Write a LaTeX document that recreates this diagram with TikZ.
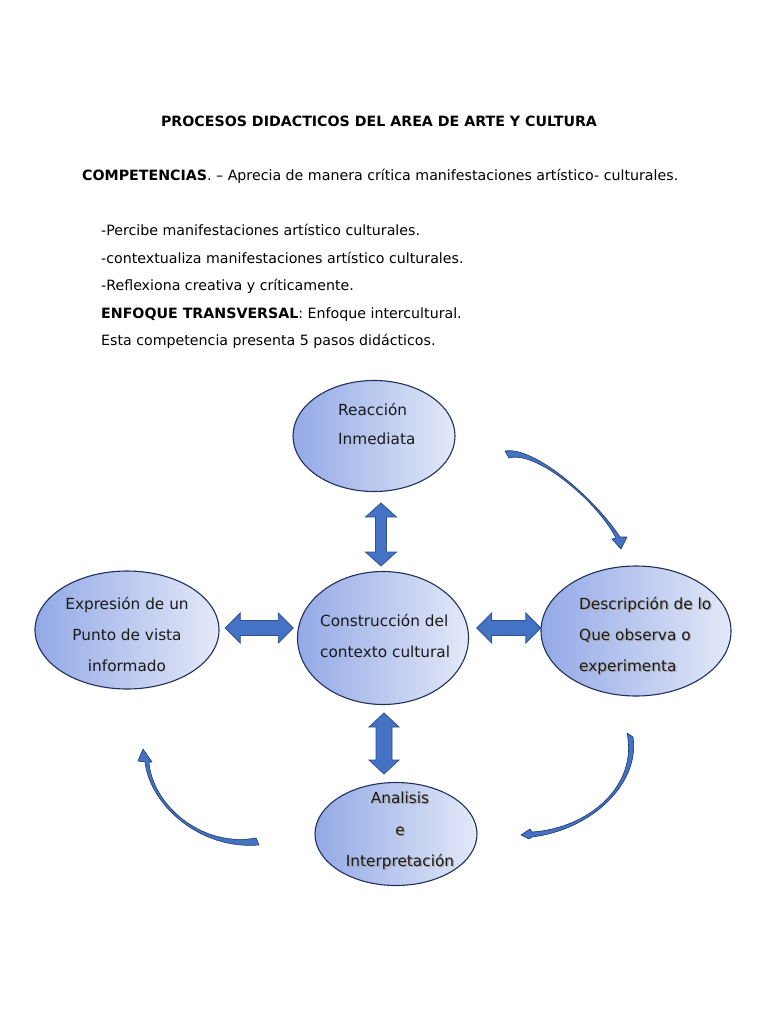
\documentclass[tikz,border=0pt]{standalone}
\usepackage{fontspec}
\setmainfont{DejaVu Sans}
\usetikzlibrary{shapes.geometric,calc}
\definecolor{ellL}{HTML}{93A9E6}
\definecolor{ellR}{HTML}{E4E9F8}
\definecolor{ellB}{HTML}{1F2F5E}
\definecolor{arrF}{HTML}{4472C4}
\definecolor{arrD}{HTML}{2F528F}
\definecolor{navy}{HTML}{1F3864}
\definecolor{txt}{HTML}{1A1A1A}
\newcommand\DArr[6]{\draw[darr,shift={#1},rotate=#2] (-#3/2,0) -- ({-#3/2+#4},-#5) -- ({-#3/2+#4},-#6) -- ({#3/2-#4},-#6) -- ({#3/2-#4},-#5) -- (#3/2,0) -- ({#3/2-#4},#5) -- ({#3/2-#4},#6) -- ({-#3/2+#4},#6) -- ({-#3/2+#4},#5) -- cycle;}
\begin{document}
\begin{tikzpicture}[x=1pt,y=-1pt,
  ell/.style={ellipse, draw=ellB, line width=1.1pt, left color=ellL, right color=ellR, inner sep=0pt},
  hdr/.style={anchor=base west, inner sep=0pt, font=\fontsize{14.2}{16}\selectfont, text=black},
  etxt/.style={inner sep=0pt, font=\fontsize{15.3}{18}\selectfont, text=txt},
  eshadow/.style={etxt, text=black!35},
  darr/.style={fill=arrF, draw=arrD, line width=0.8pt, line join=miter},
  carr/.style={fill=arrF, draw=navy, line width=0.6pt, line join=round}
]
\useasboundingbox (0,0) rectangle (768,1024);

% header
\node[hdr, anchor=base] (title) at (379,127) {\bfseries PROCESOS DIDACTICOS DEL AREA DE ARTE Y CULTURA};
\node[hdr] (comp) at (82,181) {\textbf{COMPETENCIAS}. -- Aprecia de manera crítica manifestaciones artístico- culturales.};
\node[hdr] (l1) at (101,236) {-Percibe manifestaciones artístico culturales.};
\node[hdr] (l2) at (101,263) {-contextualiza manifestaciones artístico culturales.};
\node[hdr] (l3) at (101,290) {-Reflexiona creativa y críticamente.};
\node[hdr] (l4) at (101,318) {\textbf{ENFOQUE TRANSVERSAL}: Enfoque intercultural.};
\node[hdr] (l5) at (101,345) {Esta competencia presenta 5 pasos didácticos.};

% ellipses
\node[ell, minimum width=162pt, minimum height=111pt] (reac) at (374,436) {};
\node[ell, minimum width=171pt, minimum height=133pt] (cons) at (383,638) {};
\node[ell, minimum width=184pt, minimum height=118pt] (expr) at (127,630) {};
\node[ell, minimum width=190pt, minimum height=130pt] (desc) at (636,631) {};
\node[ell, minimum width=162pt, minimum height=103pt] (anal) at (396,834) {};

% ellipse texts
\node[etxt, anchor=base west] (reac1) at (338,415) {Reacción};
\node[etxt, anchor=base west] (reac2) at (338,444) {Inmediata};
\node[etxt, anchor=base west] (cons1) at (320,626) {Construcción del};
\node[etxt, anchor=base west] (cons2) at (320,657) {contexto cultural};
\node[etxt, anchor=base] (expr1) at (127,609) {Expresión de un};
\node[etxt, anchor=base] (expr2) at (127,640) {Punto de vista};
\node[etxt, anchor=base] (expr3) at (127,671) {informado};
\node[eshadow, anchor=base west] (desc1s) at (580.2,610.2) {Descripción de lo};
\node[eshadow, anchor=base west] (desc2s) at (580.2,641.2) {Que observa o};
\node[eshadow, anchor=base west] (desc3s) at (580.2,672.2) {experimenta};
\node[etxt, anchor=base west] (desc1) at (579,609) {Descripción de lo};
\node[etxt, anchor=base west] (desc2) at (579,640) {Que observa o};
\node[etxt, anchor=base west] (desc3) at (579,671) {experimenta};
\node[eshadow, anchor=base] (anal1s) at (401.2,804.2) {Analisis};
\node[eshadow, anchor=base] (anal2s) at (401.2,836.2) {e};
\node[eshadow, anchor=base] (anal3s) at (401.2,867.2) {Interpretación};
\node[etxt, anchor=base] (anal1) at (400,803) {Analisis};
\node[etxt, anchor=base] (anal2) at (400,835) {e};
\node[etxt, anchor=base] (anal3) at (400,866) {Interpretación};

% double arrows between ellipses
\DArr{($(reac.south)!0.5!(cons.north)+(2.5,3)$)}{90}{63}{14}{15.5}{5.5}
\DArr{($(cons.south)!0.5!(anal.north)+(-5.5,0)$)}{90}{61}{14}{15}{8}
\DArr{($(expr.east)!0.5!(cons.west)+(1,-6)$)}{0}{68}{15}{15}{7.5}
\DArr{($(cons.east)!0.5!(desc.west)+(4,-6.5)$)}{0}{64}{15}{15}{7.5}

% curved arrows (cycle)
\draw[carr] (505,451) .. controls (535,446) and (596,500) .. (620,537)
  -- (627,537) -- (621,549) -- (612,539) -- (616,538)
  .. controls (597,501) and (536,450) .. (509,458) -- cycle;
\draw[carr] (627,733) -- (633,737) .. controls (640,785) and (590,830) .. (532,837)
  -- (529,839) -- (521,835) -- (530,829) -- (532,832)
  .. controls (590,828) and (638,785) .. (627,733) -- cycle;
\draw[carr] (256,838) -- (259,845) .. controls (200,850) and (150,805) .. (145,762)
  -- (138,761) -- (143,749) -- (152,762) -- (149,762)
  .. controls (152,804) and (201,848) .. (256,838) -- cycle;
\end{tikzpicture}
\end{document}
